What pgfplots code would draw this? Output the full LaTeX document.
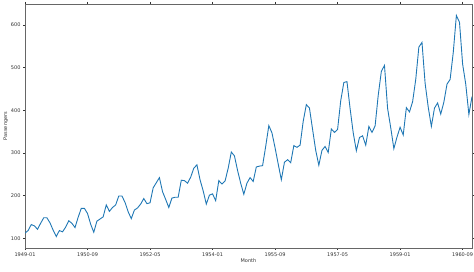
\documentclass[border=0pt]{standalone}
\usepackage{pgfplots}
\pgfplotsset{compat=1.18}
\usepackage{fontspec}
\setmainfont{DejaVu Sans}
\pgfplotstableread{
i v
0 112
1 118
2 132
3 129
4 121
5 135
6 148
7 148
8 136
9 119
10 104
11 118
12 115
13 126
14 141
15 135
16 125
17 149
18 170
19 170
20 158
21 133
22 114
23 140
24 145
25 150
26 178
27 163
28 172
29 178
30 199
31 199
32 184
33 162
34 146
35 166
36 171
37 180
38 193
39 181
40 183
41 218
42 230
43 242
44 209
45 191
46 172
47 194
48 196
49 196
50 236
51 235
52 229
53 243
54 264
55 272
56 237
57 211
58 180
59 201
60 204
61 188
62 235
63 227
64 234
65 264
66 302
67 293
68 259
69 229
70 203
71 229
72 242
73 233
74 267
75 269
76 270
77 315
78 364
79 347
80 312
81 274
82 237
83 278
84 284
85 277
86 317
87 313
88 318
89 374
90 413
91 405
92 355
93 306
94 271
95 306
96 315
97 301
98 356
99 348
100 355
101 422
102 465
103 467
104 404
105 347
106 305
107 336
108 340
109 318
110 362
111 348
112 363
113 435
114 491
115 505
116 404
117 359
118 310
119 337
120 360
121 342
122 406
123 396
124 420
125 472
126 548
127 559
128 463
129 407
130 362
131 405
132 417
133 391
134 419
135 461
136 472
137 535
138 622
139 606
140 508
141 461
142 390
143 432
}\airdata
\definecolor{mplblue}{HTML}{1F77B4}
\begin{document}
\begin{tikzpicture}
\path[use as bounding box] (-25pt,-24pt) rectangle (449pt,248pt);
\begin{axis}[
  at={(0pt,0pt)}, anchor=south west,
  scale only axis, width=447pt, height=244pt,
  xmin=0, xmax=143, ymin=77.1, ymax=648.9,
  xtick={0,20,40,60,80,100,120,140},
  xticklabels={1949-01,1950-09,1952-05,1954-01,1955-09,1957-05,1959-01,1960-09},
  ytick={100,200,300,400,500,600},
  tick align=outside, major tick length=2pt,
  tick style={black!80, line width=0.4pt},
  axis line style={black!60, line width=0.6pt},
  ticklabel style={font=\fontsize{5}{6}\selectfont, text=black!80},
  /pgf/number format/assume math mode=true,
  xlabel={Month}, ylabel={Passengers},
  label style={font=\fontsize{5}{6}\selectfont, text=black!80},
  xlabel style={yshift=4pt},
  ylabel style={yshift=-4pt},
  xticklabel style={yshift=1pt},
  yticklabel style={xshift=1pt},
  clip=true,
]
\addplot[mplblue, line width=0.9pt] table[x=i, y=v] {\airdata};
\end{axis}
\end{tikzpicture}
\end{document}
